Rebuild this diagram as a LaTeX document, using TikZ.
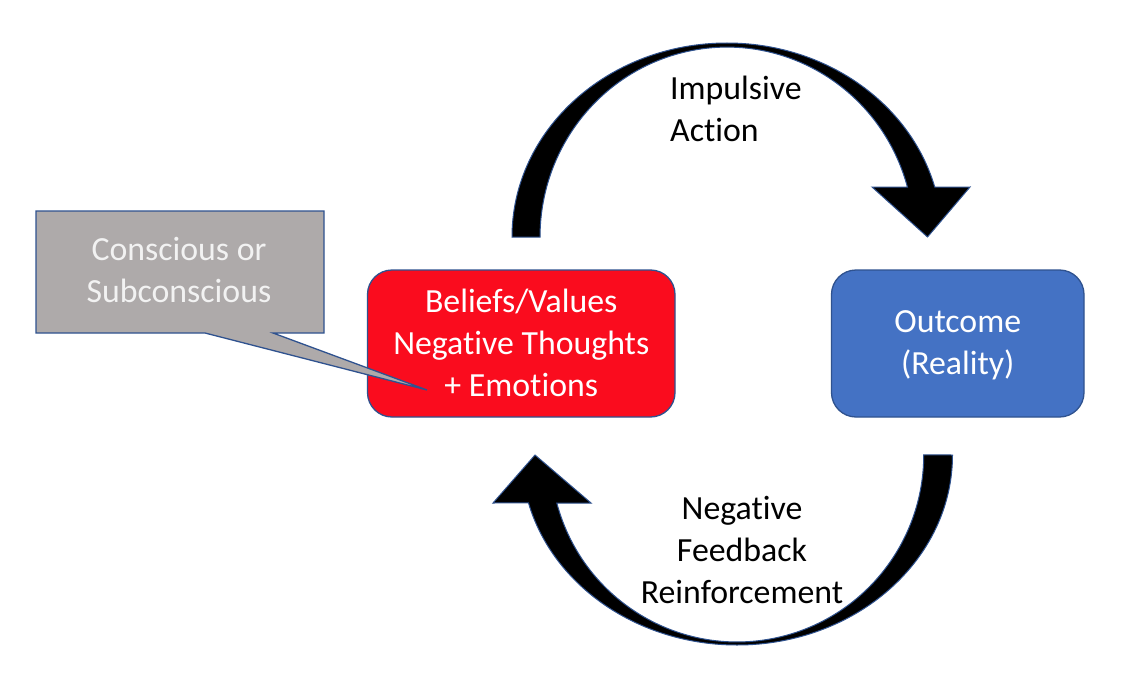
\documentclass[tikz,border=0pt]{standalone}
\usepackage{fontspec}
\setmainfont{Carlito}[RawFeature={-liga;-clig;-calt;-dlig}]
\definecolor{boxred}{RGB}{250,12,30}
\definecolor{boxblue}{RGB}{68,114,196}
\definecolor{edgeblue}{RGB}{47,82,143}
\definecolor{calloutgray}{RGB}{174,170,170}
\definecolor{calloutfg}{RGB}{242,242,242}
\begin{document}
\begin{tikzpicture}[x=1pt,y=-1pt,
  boxstyle/.style={rectangle, rounded corners=24.5pt, draw=edgeblue, line width=1.3pt,
    inner sep=0pt, align=center, text=white, font=\fontsize{33.8}{42}\selectfont},
  blockarrow/.style={fill=black, draw=edgeblue, line width=1pt, line join=miter},
  labeltext/.style={inner sep=0pt, font=\fontsize{33.8}{42}\selectfont, text=black}
]
\useasboundingbox (0,0) rectangle (1124,690);
\fill[white] (0,0) rectangle (1124,690);

% main boxes
\node[boxstyle, fill=boxred, minimum width=307.5pt, minimum height=147pt]
  (beliefs) at (521.25,343.5) {\rule{0pt}{35.4pt}Beliefs/Values\\\strut Negative Thoughts\\\strut + Emotions};
\node[boxstyle, fill=boxblue, minimum width=252.5pt, minimum height=147pt]
  (outcome) at (957.75,343.5) {\rule{0pt}{33.4pt}Outcome\\\strut (Reality)};

% top circular arrow (Impulsive Action)
\draw[blockarrow] (512,237) arc[start angle=180, end angle=345.1, x radius=215, y radius=194]
  -- (970,187) -- (927.5,237) -- (872,187) -- (907.4,187)
  arc[start angle=344.7, end angle=180, x radius=187, y radius=190] -- cycle;

% bottom circular arrow (Negative Feedback Reinforcement)
\draw[blockarrow] (952.5,455) arc[start angle=0, end angle=165.4, x radius=215.5, y radius=190]
  -- (493,503) -- (535,455) -- (591,503) -- (556.8,503)
  arc[start angle=165.1, end angle=0, x radius=186.6, y radius=187] -- cycle;

% labels
\node[labeltext, align=left, anchor=west] (impulsive) at (670,112.1)
  {\strut Impulsive\\\strut Action};
\node[labeltext, align=center] (feedback) at (742,552.6)
  {\strut Negative\\\strut Feedback\\\strut Reinforcement};

% callout
\draw[fill=calloutgray, draw=edgeblue, line width=1.3pt, line join=miter]
  (36,211) -- (324,211) -- (324,333) -- (273,333) -- (427,390) -- (205,333) -- (36,333) -- cycle;
\node[inner sep=0pt, align=center, text=calloutfg, font=\fontsize{33.8}{42}\selectfont]
  (callout) at (179,272.6) {\strut Conscious or\\\strut Subconscious};
\end{tikzpicture}
\end{document}
